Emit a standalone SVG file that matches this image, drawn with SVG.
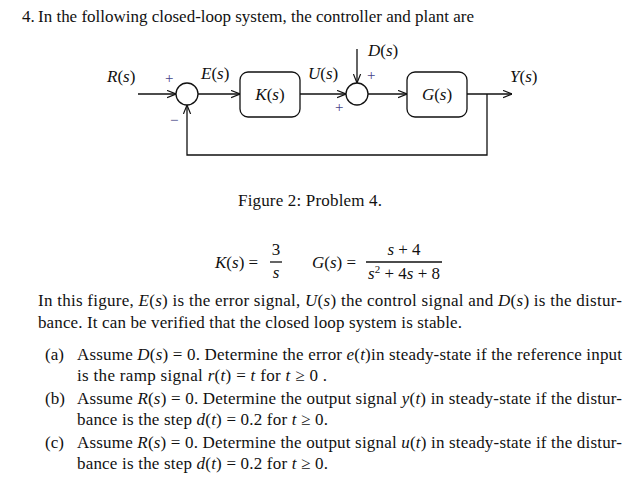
<svg xmlns="http://www.w3.org/2000/svg" width="636" height="486" viewBox="0 0 636 486">
<style>
text{font-family:"Liberation Serif","DejaVu Serif",serif;font-size:17px;fill:#111}
.i{font-style:italic}
.ln{stroke:#111;stroke-width:1.3;fill:none}
.blk{stroke:#111;stroke-width:1.3;fill:#fff}
.sg{fill:#448;font-size:15px}
</style>
<defs>
<marker id="ar" viewBox="0 0 10 10" refX="10" refY="5" markerWidth="9" markerHeight="9" markerUnits="userSpaceOnUse" orient="auto">
<path d="M0,1 L10,5 L0,9" fill="none" stroke="#111" stroke-width="1.3"/>
</marker>
</defs>
<rect width="636" height="486" fill="#fff"/>
<text x="22" y="22">4.</text>
<text x="38" y="22" textLength="436" lengthAdjust="spacing">In the following closed-loop system, the controller and plant are</text>
<g id="connectors">
<line class="ln" x1="138" y1="94" x2="176" y2="94" marker-end="url(#ar)"/>
<line class="ln" x1="198" y1="94" x2="240" y2="94" marker-end="url(#ar)"/>
<line class="ln" x1="300" y1="94" x2="346" y2="94" marker-end="url(#ar)"/>
<line class="ln" x1="357" y1="49" x2="357" y2="83" marker-end="url(#ar)"/>
<line class="ln" x1="368" y1="94" x2="407" y2="94" marker-end="url(#ar)"/>
<line class="ln" x1="467" y1="94" x2="512" y2="94" marker-end="url(#ar)"/>
<polyline class="ln" points="487,94 487,155 187,155 187,105" marker-end="url(#ar)"/>
</g>
<g id="sum1"><circle class="blk" cx="187" cy="94" r="11"/></g>
<g id="sum2"><circle class="blk" cx="357" cy="94" r="11"/></g>
<g id="K"><rect class="blk" x="240" y="72" width="60" height="45" rx="8"/><text x="270" y="100" text-anchor="middle"><tspan class="i">K</tspan>(<tspan class="i">s</tspan>)</text></g>
<g id="G"><rect class="blk" x="407" y="72" width="60" height="45" rx="8"/><text x="437" y="100" text-anchor="middle"><tspan class="i">G</tspan>(<tspan class="i">s</tspan>)</text></g>
<text x="107" y="82"><tspan class="i">R</tspan>(<tspan class="i">s</tspan>)</text>
<text x="201" y="79"><tspan class="i">E</tspan>(<tspan class="i">s</tspan>)</text>
<text x="308" y="79"><tspan class="i">U</tspan>(<tspan class="i">s</tspan>)</text>
<text x="368" y="56"><tspan class="i">D</tspan>(<tspan class="i">s</tspan>)</text>
<text x="510" y="82"><tspan class="i">Y</tspan>(<tspan class="i">s</tspan>)</text>
<text class="sg" x="165" y="83">+</text>
<text class="sg" x="170" y="125">−</text>
<text class="sg" x="335" y="112">+</text>
<text class="sg" x="367" y="80">+</text>
<text x="238" y="206" textLength="144" lengthAdjust="spacing">Figure 2: Problem 4.</text>
<text x="215" y="268"><tspan class="i">K</tspan>(<tspan class="i">s</tspan>) =</text>
<text x="276" y="255" text-anchor="middle">3</text>
<line class="ln" x1="270" y1="262" x2="282" y2="262" stroke-width="0.9"/>
<text x="276" y="278" text-anchor="middle" class="i">s</text>
<text x="312" y="268"><tspan class="i">G</tspan>(<tspan class="i">s</tspan>) =</text>
<text x="404" y="255" text-anchor="middle"><tspan class="i">s</tspan> + 4</text>
<line class="ln" x1="366" y1="262" x2="442" y2="262" stroke-width="0.9"/>
<text x="404" y="279" text-anchor="middle"><tspan class="i">s</tspan><tspan font-size="11" dy="-6">2</tspan><tspan dy="6"> + 4</tspan><tspan class="i">s</tspan> + 8</text>
<text x="38" y="306" textLength="584" lengthAdjust="spacing">In this figure, <tspan class="i">E</tspan>(<tspan class="i">s</tspan>) is the error signal, <tspan class="i">U</tspan>(<tspan class="i">s</tspan>) the control signal and <tspan class="i">D</tspan>(<tspan class="i">s</tspan>) is the distur-</text>
<text x="38" y="328" textLength="424" lengthAdjust="spacing">bance. It can be verified that the closed loop system is stable.</text>
<text x="45" y="360">(a)</text>
<text x="77" y="360" textLength="545" lengthAdjust="spacing">Assume <tspan class="i">D</tspan>(<tspan class="i">s</tspan>) = 0. Determine the error <tspan class="i">e</tspan>(<tspan class="i">t</tspan>)in steady-state if the reference input</text>
<text x="77" y="381" textLength="250" lengthAdjust="spacing">is the ramp signal <tspan class="i">r</tspan>(<tspan class="i">t</tspan>) = <tspan class="i">t</tspan> for <tspan class="i">t</tspan> ≥ 0 .</text>
<text x="45" y="404">(b)</text>
<text x="77" y="404" textLength="545" lengthAdjust="spacing">Assume <tspan class="i">R</tspan>(<tspan class="i">s</tspan>) = 0. Determine the output signal <tspan class="i">y</tspan>(<tspan class="i">t</tspan>) in steady-state if the distur-</text>
<text x="77" y="425" textLength="251" lengthAdjust="spacing">bance is the step <tspan class="i">d</tspan>(<tspan class="i">t</tspan>) = 0.2 for <tspan class="i">t</tspan> ≥ 0.</text>
<text x="45" y="448">(c)</text>
<text x="77" y="448" textLength="545" lengthAdjust="spacing">Assume <tspan class="i">R</tspan>(<tspan class="i">s</tspan>) = 0. Determine the output signal <tspan class="i">u</tspan>(<tspan class="i">t</tspan>) in steady-state if the distur-</text>
<text x="77" y="469" textLength="251" lengthAdjust="spacing">bance is the step <tspan class="i">d</tspan>(<tspan class="i">t</tspan>) = 0.2 for <tspan class="i">t</tspan> ≥ 0.</text>
</svg>
